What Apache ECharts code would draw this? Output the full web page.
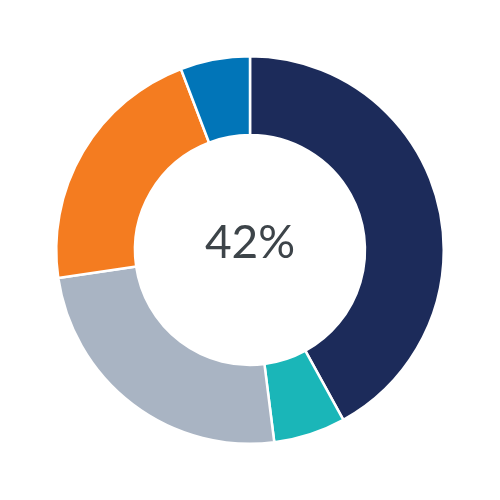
<!DOCTYPE html>
<html>
<head>
<meta charset="utf-8">
<script src="https://cdn.jsdelivr.net/npm/echarts@6/dist/echarts.min.js"></script>
<style>
  html, body { margin: 0; padding: 0; background: #fff; }
  #main { width: 500px; height: 500px; }
</style>
</head>
<body>
<div id="main"></div>
<script>
// slice data, clockwise from 12 o'clock
var names = ['A', 'B', 'C', 'D', 'E'];
var values = [42, 6, 24.7, 21.5, 5.8];
var colors = ['#1c2b5a', '#1ab6b8', '#a9b4c3', '#f47c20', '#0175b8'];
var centerLabel = '42%';

var myChart = echarts.init(document.getElementById('main'));

var data = [];
for (var i = 0; i < values.length; i++) {
  data.push({ name: names[i], value: values[i], itemStyle: { color: colors[i] } });
}

var option = {
  animation: false,
  graphic: [{
    type: 'text',
    left: 'center',
    top: 220,
    style: {
      text: centerLabel,
      font: '400 46px Lato',
      fill: '#3d4449'
    }
  }],
  series: [{
    type: 'pie',
    center: ['50%', '50%'],
    radius: ['46%', '77.5%'],
    startAngle: 90,
    clockwise: true,
    label: { show: false },
    labelLine: { show: false },
    emphasis: { disabled: true },
    itemStyle: { borderColor: '#fff', borderWidth: 2.5 },
    data: data
  }]
};

myChart.setOption(option);
</script>
</body>
</html>
